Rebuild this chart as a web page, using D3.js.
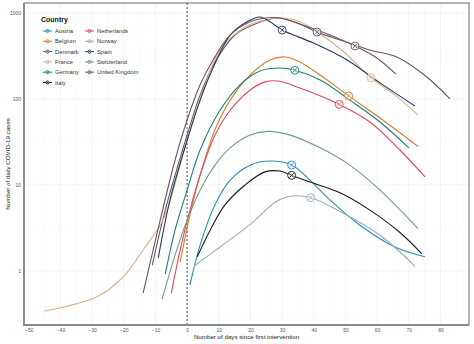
<!DOCTYPE html>
<html>
<head>
<meta charset="utf-8">
<script src="https://cdn.jsdelivr.net/npm/d3@7"></script>
<style>
  body { margin: 0; background: #fff; }
  svg { display: block; font-family: "Liberation Sans", Arial, sans-serif; }
</style>
</head>
<body>
<svg width="474" height="344"></svg>
<script>
// countries, in legend order
const countries = ["Austria", "Belgium", "Denmark", "France", "Germany", "Italy",
  "Netherlands", "Norway", "Spain", "Switzerland", "United Kingdom"];
const colors = ["#2b8cbe", "#d97b2b", "#5e5a63", "#d9b38c", "#17807a", "#1a1a1a",
  "#e0475b", "#9aaab8", "#233a5e", "#6e9c88", "#7a5060"];

// days since first intervention / daily cases
const austriaDays = [0.9, 4.1, 8.8, 13.6, 19.9, 26.2, 33.1, 38.8, 45.1, 54.6, 65.6, 75.1];
const austriaCases = [0.69, 2.0, 5.9, 11.4, 17, 19, 17, 11.4, 6.7, 3.4, 1.9, 1.46];
const belgiumDays = [-2.2, 0.9, 4.1, 8.8, 13.6, 19.9, 26.2, 31.2, 35.6, 42, 51.1, 60.9, 72.9];
const belgiumCases = [1.27, 4.5, 13, 44, 97, 190, 284, 308, 269, 190, 108, 60, 28];
const denmarkDays = [-11, -6.9, 0, 4.1, 8.8, 15.1, 21.5, 28.7, 35.6, 41, 48.3, 57.7, 66.2, 75.7, 83];
const denmarkCases = [1.17, 5.1, 38, 111, 269, 555, 745, 875, 745, 601, 485, 371, 308, 180, 100];
const franceDays = [-45.1, -39.1, -28.4, -20.2, -13.9, -8.5, -6.3, 0, 4.1, 10.4, 18.3, 24.6, 29.3, 35.6, 41.6, 49.5, 57.7, 65.6, 72.9];
const franceCases = [0.34, 0.38, 0.5, 0.85, 1.75, 3.4, 5.1, 33, 97, 371, 687, 829, 875, 790, 585, 352, 180, 111, 65];
const germanyDays = [-6.9, -3.8, 0, 4.1, 10.4, 16.7, 23, 29.3, 33.8, 42, 51.4, 60.9, 70];
const germanyCases = [0.92, 3.0, 8.7, 25.5, 74, 146, 212, 229, 217, 166, 97, 54, 27];
const italyDays = [3.2, 7.3, 12, 18.3, 24.6, 29.3, 32.8, 38.8, 48.3, 57.7, 67.2, 74.1];
const italyCases = [1.46, 3.0, 5.9, 10, 14.2, 14.5, 13, 10.8, 8.1, 5.1, 2.8, 1.58];
const netherlandsDays = [-5, -2.2, 0.9, 4.1, 8.8, 13.6, 19.9, 24.6, 28.7, 35.6, 47.9, 57.7, 67.2, 75.1];
const netherlandsCases = [0.55, 1.75, 5.1, 13, 38, 74, 127, 158, 162, 134, 87, 54, 25.5, 12.4];
const norwayDays = [2.2, 10.4, 20.8, 27.8, 32.5, 39.1, 48.3, 60.9, 71.9];
const norwayCases = [1.14, 1.9, 3.7, 6.3, 7.4, 7.1, 4.9, 2.6, 1.14];
const spainDays = [-9.1, -5.4, 0, 4.1, 7.9, 13.6, 18.9, 23, 26.2, 30, 39.7, 50.5, 60.9, 71.9];
const spainCases = [1.42, 6.7, 33, 97, 217, 552, 790, 898, 790, 634, 450, 284, 154, 83];
const switzerlandDays = [-7.9, -3.8, 0, 4.1, 8.8, 13.6, 19.9, 25.6, 32.5, 42, 51.4, 60.9, 72.9];
const switzerlandCases = [0.47, 1.53, 3.9, 8.7, 17, 27, 38, 42, 38, 27, 17, 8.7, 3.1];
const ukDays = [-13.9, -8.5, -3.8, 0, 4.1, 8.2, 13.6, 19.9, 24.6, 29.3, 35.6, 45.1, 53, 59.9, 65.9];
const ukCases = [0.55, 3.9, 19.5, 57, 146, 284, 555, 790, 875, 875, 745, 555, 413, 300, 195];

// day of the marked point on each curve (null = none)
const markerDays = [33, 51, 41, 58, 34, 33, 48, 39, 30, null, 53];

const seriesDays = [austriaDays, belgiumDays, denmarkDays, franceDays, germanyDays, italyDays,
  netherlandsDays, norwayDays, spainDays, switzerlandDays, ukDays];
const seriesCases = [austriaCases, belgiumCases, denmarkCases, franceCases, germanyCases, italyCases,
  netherlandsCases, norwayCases, spainCases, switzerlandCases, ukCases];

const xTicks = [-50, -40, -30, -20, -10, 0, 10, 20, 30, 40, 50, 60, 70, 80];
const yTicks = [1, 10, 100, 1000];

const series = countries.map((c, i) => ({
  name: c,
  color: colors[i],
  marker: markerDays[i],
  points: seriesDays[i].map((d, j) => ({ day: d, cases: seriesCases[i][j] }))
}));

const svg = d3.select("svg");
const panel = { left: 24, right: 469, top: 3, bottom: 325 };

const x = d3.scaleLinear().domain([-51.5, 89]).range([panel.left, panel.right]);
const y = d3.scaleLog().domain([0.235, 1307]).range([panel.bottom, panel.top]);

// grid
const grid = svg.append("g");
d3.range(-50, 90, 5).forEach(v => {
  grid.append("line")
    .attr("x1", x(v)).attr("x2", x(v)).attr("y1", panel.top).attr("y2", panel.bottom)
    .attr("stroke", v % 10 === 0 ? "#ebebeb" : "#f4f4f4").attr("stroke-width", v % 10 === 0 ? 0.6 : 0.4);
});
[0.316, 3.16, 31.6, 316].forEach(v => {
  grid.append("line").attr("x1", panel.left).attr("x2", panel.right).attr("y1", y(v)).attr("y2", y(v))
    .attr("stroke", "#f4f4f4").attr("stroke-width", 0.4);
});
yTicks.forEach(v => {
  grid.append("line").attr("x1", panel.left).attr("x2", panel.right).attr("y1", y(v)).attr("y2", y(v))
    .attr("stroke", "#ebebeb").attr("stroke-width", 0.6);
});

// intervention line
svg.append("line")
  .attr("x1", x(0)).attr("x2", x(0)).attr("y1", panel.top).attr("y2", panel.bottom)
  .attr("stroke", "#555").attr("stroke-width", 1).attr("stroke-dasharray", "2,2");

// curves
const line = d3.line()
  .x(d => x(d.day))
  .y(d => y(d.cases))
  .curve(d3.curveCatmullRom.alpha(0.5));

svg.append("g").selectAll("path")
  .data(series)
  .enter().append("path")
  .attr("d", d => line(d.points))
  .attr("fill", "none")
  .attr("stroke", d => d.color)
  .attr("stroke-width", 1.1);

// interpolate on the log scale to put the marker on the curve
function caseAt(s, day) {
  const p = s.points;
  for (let j = 1; j < p.length; j++) {
    if (day <= p[j].day) {
      const t = (day - p[j - 1].day) / (p[j].day - p[j - 1].day);
      return Math.exp(Math.log(p[j - 1].cases) * (1 - t) + Math.log(p[j].cases) * t);
    }
  }
  return p[p.length - 1].cases;
}

function drawMarker(g, cx, cy, r, color) {
  g.append("circle").attr("cx", cx).attr("cy", cy).attr("r", r)
    .attr("fill", "#fff").attr("fill-opacity", 0.6).attr("stroke", color).attr("stroke-width", 0.9);
  const k = r * 0.55;
  g.append("path")
    .attr("d", `M${cx - k},${cy - k}L${cx + k},${cy + k}M${cx - k},${cy + k}L${cx + k},${cy - k}`)
    .attr("stroke", color).attr("stroke-width", 0.8);
}

const markers = svg.append("g");
series.filter(s => s.marker !== null).forEach(s => {
  drawMarker(markers, x(s.marker), y(caseAt(s, s.marker)), 4, s.color);
});

// panel border
svg.append("rect")
  .attr("x", panel.left).attr("y", panel.top)
  .attr("width", panel.right - panel.left).attr("height", panel.bottom - panel.top)
  .attr("fill", "none").attr("stroke", "#444").attr("stroke-width", 0.8);
svg.append("path")
  .attr("d", `M${panel.left},${panel.top}V${panel.bottom}H${panel.right}`)
  .attr("fill", "none").attr("stroke", "#8a8a8a").attr("stroke-width", 1.8);

// axes
const xAxis = svg.append("g")
  .attr("transform", `translate(0,${panel.bottom + 3})`)
  .call(d3.axisBottom(x).tickValues(xTicks).tickSize(0).tickPadding(0));
xAxis.select(".domain").remove();
xAxis.selectAll("text").attr("font-size", 5).attr("fill", "#555").attr("dy", "0.71em");

const yAxis = svg.append("g")
  .attr("transform", `translate(${panel.left - 3},0)`)
  .call(d3.axisLeft(y).tickValues(yTicks).tickFormat(d3.format("d")).tickSize(0).tickPadding(0));
yAxis.select(".domain").remove();
yAxis.selectAll("text").attr("font-size", 5).attr("fill", "#555");

svg.append("text")
  .attr("x", (panel.left + panel.right) / 2).attr("y", 339)
  .attr("text-anchor", "middle").attr("font-size", 6.2).attr("fill", "#222")
  .text("Number of days since first intervention");

svg.append("text")
  .attr("transform", `translate(10,${(panel.top + panel.bottom) / 2}) rotate(-90)`)
  .attr("text-anchor", "middle").attr("font-size", 6.2).attr("fill", "#222")
  .text("Number of daily COVID-19 cases");

// legend
const legend = svg.append("g");
legend.append("text")
  .attr("x", 41).attr("y", 21.5)
  .attr("font-size", 7).attr("font-weight", "bold").attr("fill", "#111")
  .text("Country");

series.forEach((s, i) => {
  const col = i < 6 ? 0 : 1;
  const row = i < 6 ? i : i - 6;
  const lx = col === 0 ? 43 : 85;
  const ly = 31 + row * 10.3;
  legend.append("line")
    .attr("x1", lx).attr("x2", lx + 9).attr("y1", ly).attr("y2", ly)
    .attr("stroke", s.color).attr("stroke-width", 1);
  drawMarker(legend, lx + 4.5, ly, 1.6, s.color);
  legend.append("text")
    .attr("x", lx + 12).attr("y", ly).attr("dy", "0.35em")
    .attr("font-size", 5.8).attr("fill", "#333")
    .text(s.name);
});
</script>
</body>
</html>
